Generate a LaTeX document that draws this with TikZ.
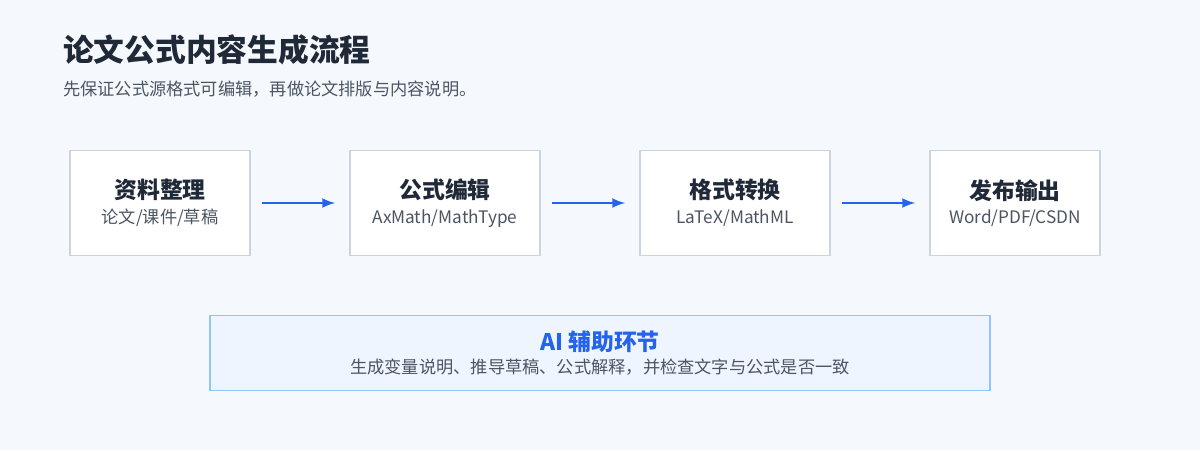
\documentclass[tikz,border=0pt]{standalone}
\usepackage{fontspec}
\setmainfont{Noto Sans CJK SC}
\usetikzlibrary{positioning}
\definecolor{bgc}{HTML}{F5F8FC}
\definecolor{ink}{HTML}{1F2937}
\definecolor{subc}{HTML}{4B5563}
\definecolor{edgec}{HTML}{CBD5E1}
\definecolor{flow}{HTML}{2563EB}
\definecolor{aifill}{HTML}{EEF5FF}
\definecolor{aiedge}{HTML}{93C5FD}
\tikzset{
  stepbox/.style={rectangle, draw=edgec, line width=1pt, fill=white, minimum width=3.6cm, minimum height=2.1cm, align=center},
  flowarrow/.style={->, >=latex, draw=flow, line width=1.5pt}
}
\newcommand{\steptext}[2]{{\fontsize{13}{16}\selectfont\bfseries\color{ink}#1}\\[2pt]{\fontsize{9.8}{12}\selectfont\color{subc}#2}}
\begin{document}
\begin{tikzpicture}[x=0.02cm, y=-0.02cm]
		\fill[bgc] (0,0) rectangle (1200,450);
		\node[anchor=west, font=\fontsize{17.5}{20}\selectfont\bfseries, text=ink](title) at (57,50){论文公式内容生成流程};
		\node[anchor=west, font=\fontsize{9.8}{12}\selectfont, text=subc](subtitle) at (57,89){先保证公式源格式可编辑，再做论文排版与内容说明。};

		\node[stepbox](collect) at (160,203){\steptext{资料整理}{论文/课件/草稿}};
		\node[stepbox, minimum width=3.8cm](edit) at (445,203){\steptext{公式编辑}{AxMath/MathType}};
		\node[stepbox, minimum width=3.8cm](convert) at (735,203){\steptext{格式转换}{LaTeX/MathML}};
		\node[stepbox, minimum width=3.4cm](publish) at (1015,203){\steptext{发布输出}{Word/PDF/CSDN}};

		% draw flow edges
		\draw[flowarrow] (collect.east) ++(11,0) -- ([xshift=-8]edit.west);
		\draw[flowarrow] (edit.east) ++(11,0) -- ([xshift=-8]convert.west);
		\draw[flowarrow] (convert.east) ++(11,0) -- ([xshift=-8]publish.west);

		\node[rectangle, draw=aiedge, line width=1pt, fill=aifill, minimum width=15.6cm, minimum height=1.5cm, align=center](aiBox) at (600,353){{\fontsize{13}{16}\selectfont\bfseries\color{flow}AI 辅助环节}\\[1pt]{\fontsize{9.8}{12}\selectfont\color{subc}生成变量说明、推导草稿、公式解释，并检查文字与公式是否一致}};
	\end{tikzpicture}
\end{document}
